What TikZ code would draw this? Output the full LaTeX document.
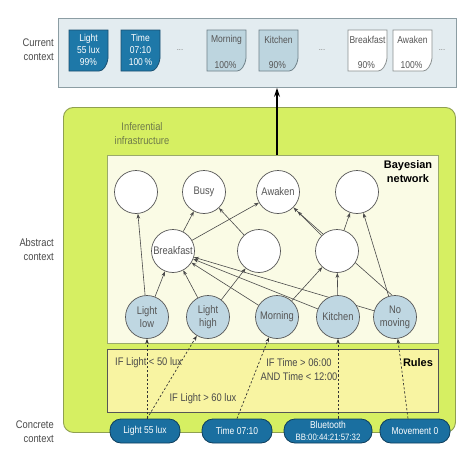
\documentclass[tikz,border=0pt]{standalone}
\usepackage{fontspec}
\setmainfont{Liberation Sans}[FakeStretch=0.85]
\newfontfamily\wideface{Liberation Sans}
\usetikzlibrary{arrows.meta}
\pgfdeclarelayer{bglayer}
\pgfdeclarelayer{edgelayer}
\pgfsetlayers{bglayer,edgelayer,main}
\definecolor{topfill}{HTML}{E3ECF0}
\definecolor{topline}{HTML}{8C9DA3}
\definecolor{darkcard}{HTML}{1E78A8}
\definecolor{darkcardline}{HTML}{1B4F70}
\definecolor{lightcard}{HTML}{BDD5DF}
\definecolor{lightcardline}{HTML}{6E8088}
\definecolor{whitecardline}{HTML}{8A9090}
\definecolor{greenfill}{HTML}{D6EF62}
\definecolor{greenline}{HTML}{8FA050}
\definecolor{bayesfill}{HTML}{FAFBE5}
\definecolor{bayesline}{HTML}{9AAA6A}
\definecolor{rulesfill}{HTML}{F8F4A2}
\definecolor{rulesline}{HTML}{555555}
\definecolor{obsfill}{HTML}{BFD7E2}
\definecolor{pillfill}{HTML}{1A6FA0}
\definecolor{pillline}{HTML}{0E3E5C}
\definecolor{txtgray}{HTML}{4A4A4A}
\definecolor{nodegray}{HTML}{555555}
\definecolor{olivetxt}{HTML}{6E7A4A}
\newcommand\ctxcard[4]{%
  \draw[fill=#3,draw=#4,line width=0.8pt] (#1,#2) -- ++(39,0) -- ++(0,28)
    .. controls +(-1,8) and +(4,0) .. ++(-9,13) -- ++(-30,0) -- cycle;}
\tikzset{
  cardtxt/.style={align=center,inner sep=0pt,font=\fontsize{10}{12}\selectfont},
  dotstxt/.style={text=gray,font=\fontsize{9}{10}\selectfont},
  sidelbl/.style={anchor=east,align=right,text=txtgray,inner sep=0pt,font=\fontsize{11}{14}\selectfont},
  bn/.style={circle,draw=nodegray,line width=0.7pt,fill=white,minimum size=43pt,inner sep=0pt,
     align=center,text=nodegray,font=\fontsize{11}{13}\selectfont},
  obs/.style={bn,fill=obsfill},
  pill/.style={draw=pillline,fill=pillfill,line width=0.8pt,rounded corners=11pt,minimum width=70pt,
     minimum height=24pt,inner sep=1pt,text=white,align=center,font=\fontsize{10}{12}\selectfont},
  edge/.style={draw=txtgray,line width=0.6pt,-{Stealth[length=5pt,width=3.6pt]}},
  dashedge/.style={draw=black!80,line width=0.7pt,dash pattern=on 2.2pt off 2pt,-{Stealth[length=5pt,width=3.6pt]}},
  bigarrow/.style={draw=black,line width=1.4pt,-{Stealth[length=9pt,width=6pt]}},
  ruletxt/.style={text=txtgray,inner sep=0pt,font=\fontsize{11}{14}\selectfont},
  boldlbl/.style={align=center,inner sep=0pt,font=\wideface\bfseries\fontsize{11}{14}\selectfont}
}
\begin{document}
\begin{tikzpicture}[x=1pt,y=-1pt]
\useasboundingbox (0,0) rectangle (474,463);
% boxes
\begin{pgfonlayer}{bglayer}
\fill[white] (0,0) rectangle (474,463);
\node[draw=topline,fill=topfill,line width=0.9pt,anchor=north west,minimum width=398pt,minimum height=69pt,inner sep=0pt] (topbox) at (58,18) {};
\node[draw=greenline,fill=greenfill,line width=0.9pt,rounded corners=10pt,anchor=north west,minimum width=392pt,minimum height=325pt,inner sep=0pt] (infra) at (63,107) {};
\node[draw=bayesline,fill=bayesfill,line width=0.9pt,anchor=north west,minimum width=331pt,minimum height=188pt,inner sep=0pt] (bayes) at (107,155) {};
\node[draw=rulesline,fill=rulesfill,line width=0.9pt,anchor=north west,minimum width=331pt,minimum height=63pt,inner sep=0pt] (rules) at (107,349) {};
\end{pgfonlayer}
% left labels
\node[sidelbl] (lcur) at (54,50) {Current\\context};
\node[sidelbl] (labs) at (54,250) {Abstract\\context};
\node[sidelbl] (lcon) at (54,431.5) {Concrete\\context};
% cards
\ctxcard{69}{30}{darkcard}{darkcardline}
\ctxcard{121}{30}{darkcard}{darkcardline}
\ctxcard{207}{30}{lightcard}{lightcardline}
\ctxcard{259}{30}{lightcard}{lightcardline}
\ctxcard{348}{30}{white}{whitecardline}
\ctxcard{393}{30}{white}{whitecardline}
\node[cardtxt,text=white] (c1) at (88.5,50) {Light\\55 lux\\99\%};
\node[cardtxt,text=white] (c2) at (140.5,50) {Time\\07:10\\100\,\%};
\node[cardtxt,text=nodegray] (c3) at (226.5,40) {Morning};
\node[cardtxt,text=nodegray] (c3p) at (225.5,65) {100\%};
\node[cardtxt,text=nodegray] (c4) at (278.5,40) {Kitchen};
\node[cardtxt,text=nodegray] (c4p) at (277.5,65) {90\%};
\node[cardtxt,text=nodegray] (c5) at (367.5,40) {Breakfast};
\node[cardtxt,text=nodegray] (c5p) at (366.5,65) {90\%};
\node[cardtxt,text=nodegray] (c6) at (412.5,40) {Awaken};
\node[cardtxt,text=nodegray] (c6p) at (411.5,65) {100\%};
\node[dotstxt] (d1) at (180,50) {...};
\node[dotstxt] (d2) at (322,50) {...};
\node[dotstxt] (d3) at (442,50) {...};
% big arrow
\coordinate (ax) at (277,0);
\draw[bigarrow] (bayes.north -| ax) -- (topbox.south -| ax);
% labels
\node[align=center,text=olivetxt,inner sep=0pt,font=\fontsize{11}{14}\selectfont] (inflbl) at (142,134) {Inferential\\infrastructure};
\node[boldlbl] (bnlbl) at (408,172) {Bayesian\\network};
\node[boldlbl] (rllbl) at (418,363) {Rules};
% Bayesian nodes
\node[bn] (n1) at (136,192) {};
\node[bn] (busy) at (204,192) {Busy};
\node[bn] (awaken) at (278,192) {Awaken};
\node[bn] (n4) at (357,192) {};
\node[bn] (breakfast) at (173,251) {Breakfast};
\node[bn] (mid) at (259,251) {};
\node[bn] (rmid) at (337,251) {};
\node[obs] (lightlow) at (147,317) {Light\\low};
\node[obs] (lighthigh) at (208,317) {Light\\high};
\node[obs] (morning) at (277,317) {Morning};
\node[obs] (kitchen) at (338,317) {Kitchen};
\node[obs] (nomov) at (395,317) {No\\moving};
\begin{pgfonlayer}{edgelayer}
\draw[edge] (lightlow) -- (n1);
\draw[edge] (lightlow) -- (breakfast);
\draw[edge] (lighthigh) -- (breakfast);
\draw[edge] (lighthigh) -- (mid);
\draw[edge] (morning) -- (breakfast);
\draw[edge] (morning) -- (rmid);
\draw[edge] (kitchen) -- (breakfast);
\draw[edge] (kitchen) -- (rmid);
\draw[edge] (nomov) -- (breakfast);
\draw[edge] ([xshift=-3pt]nomov.north) -- ([xshift=4pt,yshift=-4pt]awaken.south east);
\draw[edge] (nomov) -- (n4);
\draw[edge] (breakfast) -- (busy);
\draw[edge] (breakfast) -- (awaken);
\draw[edge] (mid) -- (busy);
\draw[edge] (rmid) -- (awaken);
\draw[edge] (rmid) -- (n4);
\end{pgfonlayer}
% rules text
\node[ruletxt,anchor=west] (r1) at (115,363) {IF Light < 50 lux};
\node[ruletxt,align=center] (r2) at (299,370) {IF Time > 06:00\\AND Time < 12:00};
\node[ruletxt] (r3) at (203,399) {IF Light > 60 lux};
% concrete context
\node[pill] (l55) at (145,431) {Light 55 lux};
\node[pill] (tm) at (237,431) {Time 07:10};
\node[pill,minimum width=88pt] (bt) at (328,431) {Bluetooth\\{\fontsize{9.2}{11}\selectfont BB:00:44:21:57:32}};
\node[pill] (mov) at (415,431) {Movement 0};
\draw[dashedge] (lightlow |- l55.north) -- (lightlow);
\draw[dashedge] ([xshift=2pt]l55.north) -- (lighthigh);
\draw[dashedge] (tm.north) -- (morning);
\draw[dashedge] (kitchen |- bt.north) -- (kitchen);
\draw[dashedge] ([xshift=-7pt]mov.north) -- (nomov);
\end{tikzpicture}
\end{document}
